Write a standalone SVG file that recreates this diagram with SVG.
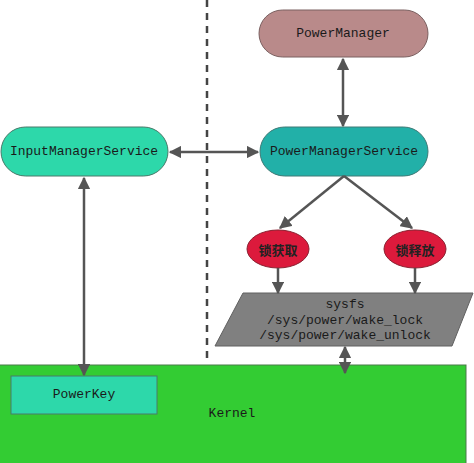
<svg xmlns="http://www.w3.org/2000/svg" width="474" height="463" viewBox="0 0 474 463">
<style>
.t{font-family:"Liberation Mono","DejaVu Sans Mono",monospace;font-size:13px;fill:#1a1a1a;text-anchor:middle;dominant-baseline:central}
.c{font-family:"Noto Sans CJK SC",sans-serif;font-size:13px;font-weight:bold;fill:#222;text-anchor:middle;dominant-baseline:central}
.ln{stroke:#555;stroke-width:2.5;fill:none}
</style>
<defs>
<marker id="ah" viewBox="0 0 10 10" refX="9" refY="5" markerWidth="5" markerHeight="5" orient="auto-start-reverse" markerUnits="strokeWidth">
<path d="M0,0 L10,5 L0,10 z" fill="#555"/>
</marker>
</defs>
<line x1="207" y1="0" x2="207" y2="362" stroke="#444" stroke-width="2.5" stroke-dasharray="7,6"/>
<g id="kernel">
<rect x="-1" y="365" width="467" height="100" fill="#33cc33" stroke="#4a7a4a" stroke-width="1"/>
<text class="t" x="232" y="413">Kernel</text>
</g>
<g id="powerkey">
<rect x="11" y="376" width="146" height="38" fill="#2dd8aa" stroke="#4a7a6a" stroke-width="1"/>
<text class="t" x="84" y="394">PowerKey</text>
</g>
<g id="powermanager">
<rect x="259" y="10" width="169" height="47" rx="23.5" fill="#b98a8a" stroke="#7a6060" stroke-width="1"/>
<text class="t" x="343" y="33">PowerManager</text>
</g>
<g id="inputmanagerservice">
<rect x="1" y="127" width="167" height="49" rx="24.5" fill="#2dd8aa" stroke="#4a7a6a" stroke-width="1"/>
<text class="t" x="84" y="151">InputManagerService</text>
</g>
<g id="powermanagerservice">
<rect x="260" y="127" width="168" height="49" rx="24.5" fill="#22b0a8" stroke="#3f7a76" stroke-width="1"/>
<text class="t" x="344" y="151">PowerManagerService</text>
</g>
<g id="lock-acquire">
<ellipse cx="278" cy="249" rx="31" ry="19" fill="#dc1a3c" stroke="#8a2030" stroke-width="1"/>
<text class="c" x="278" y="249">锁获取</text>
</g>
<g id="lock-release">
<ellipse cx="415" cy="249" rx="31" ry="19" fill="#dc1a3c" stroke="#8a2030" stroke-width="1"/>
<text class="c" x="415" y="249">锁释放</text>
</g>
<g id="sysfs">
<polygon points="243,293 473,293 452,346 215,346" fill="#808080" stroke="#606060" stroke-width="1"/>
<text class="t" x="345" y="304">sysfs</text>
<text class="t" x="345" y="320">/sys/power/wake_lock</text>
<text class="t" x="345" y="335">/sys/power/wake_unlock</text>
</g>
<g id="connectors">
<line class="ln" x1="343" y1="59" x2="343" y2="126" marker-start="url(#ah)" marker-end="url(#ah)"/>
<line class="ln" x1="170" y1="152" x2="258" y2="152" marker-start="url(#ah)" marker-end="url(#ah)"/>
<line class="ln" x1="84" y1="178" x2="84" y2="375" marker-start="url(#ah)" marker-end="url(#ah)"/>
<line class="ln" x1="344" y1="176" x2="280" y2="228" marker-end="url(#ah)"/>
<line class="ln" x1="344" y1="176" x2="412" y2="228" marker-end="url(#ah)"/>
<line class="ln" x1="278" y1="268" x2="278" y2="293" marker-end="url(#ah)"/>
<line class="ln" x1="415" y1="268" x2="415" y2="293" marker-end="url(#ah)"/>
<line class="ln" x1="345" y1="347" x2="345" y2="373" marker-start="url(#ah)" marker-end="url(#ah)"/>
</g>
</svg>
